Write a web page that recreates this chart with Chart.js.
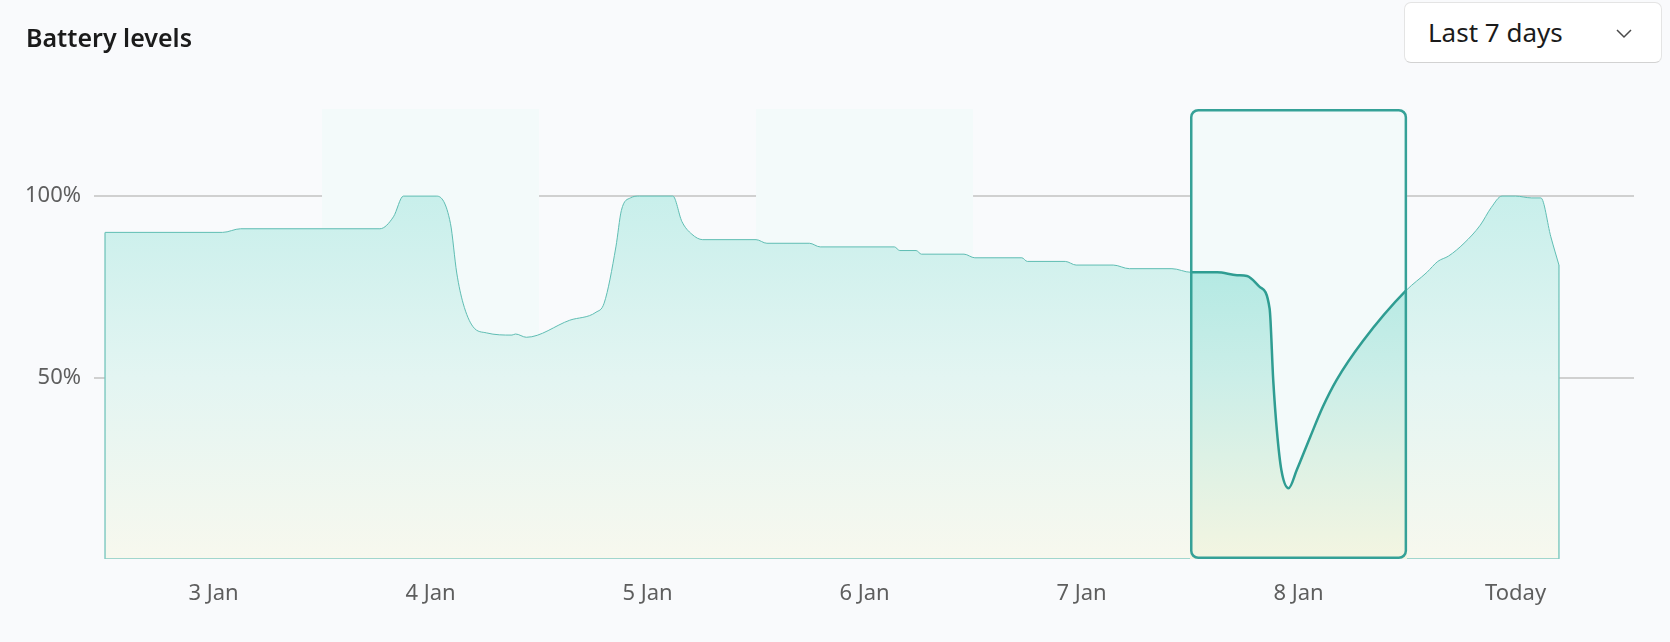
<!DOCTYPE html>
<html>
<head>
<meta charset="utf-8">
<title>Battery levels</title>
<script src="https://cdn.jsdelivr.net/npm/chart.js@4.4.1/dist/chart.umd.min.js"></script>
<style>
    body { margin: 0; background: #f9fafc; font-family: 'Noto Sans', sans-serif; }
    #wrap { position: absolute; left: 0; top: 0; width: 1670px; height: 642px; }
    #title { position: absolute; left: 26px; top: 20px; font-size: 25px; font-weight: 600; color: #1b1b1b; z-index: 2; }
    #range { position: absolute; left: 1404px; top: 2px; width: 258px; height: 61px; box-sizing: border-box;
        background: #fff; border: 1px solid #e4e4e4; border-bottom-color: #d2d2d2; border-radius: 7px; z-index: 2; }
    #range span { position: absolute; left: 23px; top: 11px; font-size: 26px; color: #1b1b1b; }
    #range svg { position: absolute; left: 210px; top: 25px; }
</style>
</head>
<body>
<div id="wrap"><canvas id="myChart"></canvas></div>
<div id="title">Battery levels</div>
<div id="range"><span>Last 7 days</span>
    <svg width="18" height="12"><polyline points="2,2 9,9 16,2" fill="none" stroke="#4a4a4a" stroke-width="1.5"/></svg>
</div>
<script>
// hours since start of 3 Jan, battery level in %
const hours = [0, 13, 15, 30.4, 31.9, 33.0, 36.7, 38.2, 38.9, 39.6, 40.7, 42.2, 45.0, 45.4, 46.6,
    51.4, 54.3, 55.2, 56.5, 57.1, 58.1, 59.1, 62.8, 63.8, 64.9, 66.1, 72.0, 73.2, 77.9, 79.1,
    87.3, 87.9, 89.7, 90.3, 95.0, 96.2, 101.4, 102.0, 106.2, 107.4, 111.5, 113.3, 118.0, 120.1,
    123.0, 125.2, 126.3, 127.7, 128.8, 129.2, 129.6, 130.1, 130.9, 131.8, 133.3, 134.7, 136.2,
    139.1, 143.9, 146.2, 147.4, 148.6, 150.3, 152.1, 153.3, 154.5, 156.0, 157.8, 158.8, 159.9, 160.8];
const levels = [90, 90, 91, 91, 94.3, 100, 100, 92.5, 78.8, 70.5, 64, 62.3, 61.7, 62, 61.1,
    65.8, 68, 70.5, 86, 96, 99.5, 100, 100, 93, 89.5, 88, 88, 87, 87, 86,
    86, 85, 85, 84, 84, 83, 83, 82, 82, 81, 81, 80, 80, 79,
    79, 78.2, 78, 75, 69, 49.3, 35.5, 24.5, 19.5, 24.5, 33.7, 42, 49.3,
    60, 74, 79, 82, 83.5, 87, 92, 96.8, 100, 100, 99.5, 99.5, 88.8, 81];

const dayLabels = ['3 Jan', '4 Jan', '5 Jan', '6 Jan', '7 Jan', '8 Jan', 'Today'];
const yTicks = [50, 100];
const shadedDays = [1, 3];
const selectedDay = 5;

const points = hours.map((h, i) => ({ x: h, y: levels[i] }));
const last = hours.length - 1;
const outline = [
    { x: hours[0], y: levels[0] }, { x: hours[0], y: 0 },
    { x: hours[last], y: 0 }, { x: hours[last], y: levels[last] }
];
const dayCentres = dayLabels.map((d, i) => i * 24 + 12);

function makeGradient(chart, stops) {
    const y = chart.scales.y;
    const g = chart.ctx.createLinearGradient(0, y.getPixelForValue(100), 0, y.getPixelForValue(0));
    stops.forEach(s => g.addColorStop(s[0], s[1]));
    return g;
}

function fillGradient(context, stops) {
    if (!context.chart.chartArea) return stops[0][1];
    return makeGradient(context.chart, stops);
}

function dayRange(chart, d) {
    const x = chart.scales.x;
    return [x.getPixelForValue(d * 24), x.getPixelForValue(d * 24 + 24)];
}

const dayShading = {
    id: 'dayShading',
    beforeDatasetsDraw(chart) {
        const { ctx, chartArea } = chart;
        ctx.save();
        ctx.fillStyle = '#f3fafa';
        shadedDays.concat([selectedDay]).forEach(d => {
            const [x0, x1] = dayRange(chart, d);
            ctx.fillRect(x0, chartArea.top, x1 - x0, chartArea.bottom - chartArea.top);
        });
        ctx.restore();
    },
    beforeDatasetDraw(chart, args) {
        if (args.index !== 2) return;
        const { ctx, chartArea } = chart;
        const [x0, x1] = dayRange(chart, selectedDay);
        ctx.save();
        ctx.beginPath();
        ctx.rect(x0, chartArea.top, x1 - x0, chartArea.bottom - chartArea.top);
        ctx.clip();
        // stronger fill under the curve for the selected day
        const line = args.meta.dataset;
        const pts = line.points;
        const yBase = chart.scales.y.getPixelForValue(0);
        ctx.beginPath();
        line.path(ctx);
        ctx.lineTo(pts[pts.length - 1].x, yBase);
        ctx.lineTo(pts[0].x, yBase);
        ctx.closePath();
        ctx.fillStyle = makeGradient(chart, [[0, '#a4e6e0'], [0.5, '#cbeee8'], [1, '#f3f5e1']]);
        ctx.fill();
    },
    afterDatasetDraw(chart, args) {
        if (args.index !== 2) return;
        chart.ctx.restore();
    },
    afterDatasetsDraw(chart) {
        const { ctx, chartArea } = chart;
        const [x0, x1] = dayRange(chart, selectedDay);
        ctx.save();
        ctx.strokeStyle = '#35a197';
        ctx.lineWidth = 2.5;
        ctx.beginPath();
        ctx.roundRect(x0 + 1.2, chartArea.top + 1.2, x1 - x0 - 2.4, chartArea.bottom - chartArea.top - 2.4, 7);
        ctx.stroke();
        ctx.restore();
    }
};

const ctx = document.getElementById('myChart').getContext('2d');

new Chart(ctx, {
    type: 'line',
    data: {
        datasets: [{
            data: points,
            order: 2,
            borderColor: '#5fbdb3',
            borderWidth: 1,
            pointRadius: 0,
            cubicInterpolationMode: 'monotone',
            fill: 'origin',
            backgroundColor: c => fillGradient(c, [[0, '#c8efeb'], [0.5, '#e3f5f2'], [1, '#f7f8ee']])
        }, {
            data: outline,
            order: 1,
            borderColor: 'rgba(120, 198, 190, 0.9)',
            borderWidth: 1.5,
            pointRadius: 0,
            fill: false
        }, {
            data: points,
            order: 0,
            borderColor: '#2f9d92',
            borderWidth: 2.5,
            pointRadius: 0,
            cubicInterpolationMode: 'monotone',
            fill: false
        }]
    },
    options: {
        responsive: true,
        maintainAspectRatio: false,
        animation: false,
        layout: { padding: { left: 0, right: 36, top: 109, bottom: 0 } },
        plugins: { legend: { display: false }, tooltip: { enabled: false } },
        scales: {
            x: {
                type: 'linear',
                min: -1.22,
                max: 169.1,
                afterBuildTicks: scale => { scale.ticks = dayCentres.map(v => ({ value: v })); },
                afterFit: scale => { scale.height = 83; },
                ticks: {
                    autoSkip: false,
                    maxRotation: 0,
                    padding: 14,
                    color: '#5e5e5e',
                    font: { family: 'Noto Sans', size: 22 },
                    callback: (v, i) => dayLabels[i]
                },
                grid: { display: false },
                border: { display: false }
            },
            y: {
                min: 0,
                max: 124,
                afterBuildTicks: scale => { scale.ticks = yTicks.map(v => ({ value: v })); },
                afterFit: scale => { scale.width = 94; },
                ticks: {
                    padding: 13,
                    color: '#5e5e5e',
                    font: { family: 'Noto Sans', size: 22 },
                    callback: v => v + '%'
                },
                grid: { color: '#d0d0d0', lineWidth: 2, drawTicks: false },
                border: { display: false }
            }
        }
    },
    plugins: [dayShading]
});
</script>
</body>
</html>
